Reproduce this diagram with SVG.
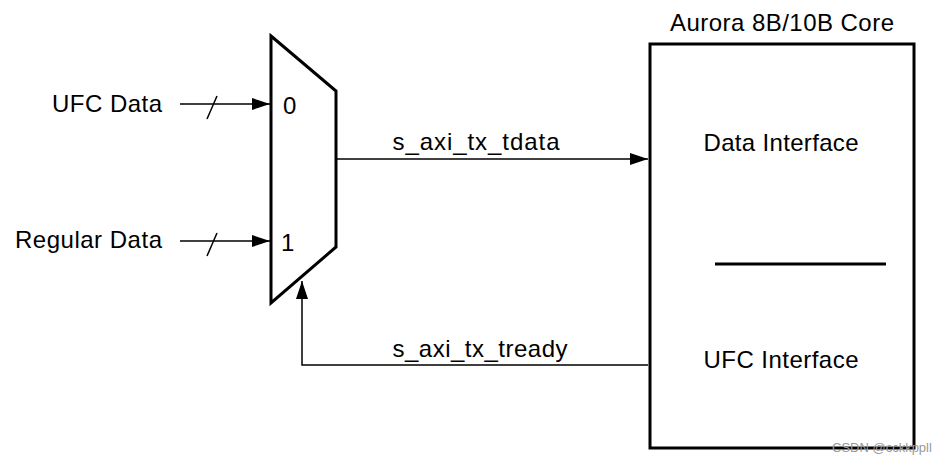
<svg xmlns="http://www.w3.org/2000/svg" width="949" height="464" viewBox="0 0 949 464">
<defs>
<style>
text{font-family:"Liberation Sans",Arial,sans-serif;font-size:24px;fill:#000}
.ln{stroke:#000;stroke-width:1.5;fill:none}
</style>
<marker id="ah2" markerWidth="18" markerHeight="12" refX="18" refY="6" orient="auto" markerUnits="userSpaceOnUse" viewBox="0 0 18 12"><path d="M0,0L18,6L0,12z" fill="#000"/></marker>
</defs>
<rect width="949" height="464" fill="#fff"/>
<g id="mux">
<path d="M271,36L336,91L336,247L271,303z" fill="none" stroke="#000" stroke-width="3"/>
<text x="283" y="114">0</text>
<text x="281" y="251">1</text>
</g>
<g id="core">
<rect x="650" y="44" width="264" height="404" fill="none" stroke="#000" stroke-width="3"/>
<text x="782" y="31" text-anchor="middle" textLength="224">Aurora 8B/10B Core</text>
<text x="781" y="151" text-anchor="middle" textLength="155">Data Interface</text>
<line x1="715" y1="264" x2="886" y2="264" stroke="#000" stroke-width="3"/>
<text x="781" y="368" text-anchor="middle" textLength="155">UFC Interface</text>
</g>
<g id="ufc"><text x="52" y="112" textLength="110">UFC Data</text></g>
<g id="reg"><text x="15" y="248" textLength="147">Regular Data</text></g>
<g id="connectors">
<line class="ln" x1="180" y1="104" x2="270" y2="104" marker-end="url(#ah2)"/>
<line class="ln" x1="207" y1="119" x2="217" y2="96"/>
<line class="ln" x1="180" y1="241" x2="270" y2="241" marker-end="url(#ah2)"/>
<line class="ln" x1="207" y1="256" x2="217" y2="233"/>
<line class="ln" x1="336" y1="159" x2="648" y2="159" marker-end="url(#ah2)"/>
<text x="476" y="150" text-anchor="middle" textLength="167">s_axi_tx_tdata</text>
<polyline class="ln" stroke="#444" points="648,365 302,365 302,281" marker-end="url(#ah2)"/>
<text x="480" y="357" text-anchor="middle" textLength="175">s_axi_tx_tready</text>
</g>
<text x="832" y="452" style="font-size:13px;fill:#999">CSDN @cckkppll</text>
</svg>
